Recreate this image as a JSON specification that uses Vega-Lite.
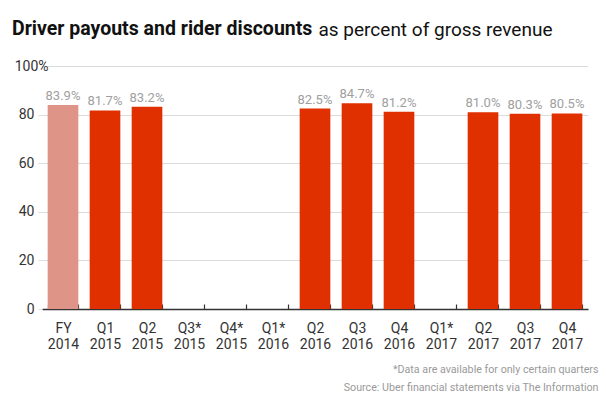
{
  "$schema": "https://vega.github.io/schema/vega-lite/v6.json",
  "width": 546,
  "height": 243,
  "autosize": "none",
  "padding": {"left": 42, "top": 66, "right": 18, "bottom": 94},
  "background": "white",
  "config": {"view": {"stroke": null}, "font": "Roboto"},
  "title": {
    "text": "Driver payouts and rider discounts",
    "anchor": "start",
    "frame": "group",
    "dx": -30,
    "offset": -19,
    "fontSize": 19.5,
    "fontWeight": "bold",
    "font": "Roboto",
    "color": "#111"
  },
  "data": {
    "values": [
      {"period": "FY 2014", "value": 83.9, "kind": "annual"},
      {"period": "Q1 2015", "value": 81.7, "kind": "quarter"},
      {"period": "Q2 2015", "value": 83.2, "kind": "quarter"},
      {"period": "Q2 2016", "value": 82.5, "kind": "quarter"},
      {"period": "Q3 2016", "value": 84.7, "kind": "quarter"},
      {"period": "Q4 2016", "value": 81.2, "kind": "quarter"},
      {"period": "Q2 2017", "value": 81.0, "kind": "quarter"},
      {"period": "Q3 2017", "value": 80.3, "kind": "quarter"},
      {"period": "Q4 2017", "value": 80.5, "kind": "quarter"}
    ]
  },
  "encoding": {
    "x": {
      "field": "period",
      "type": "nominal",
      "sort": null,
      "scale": {
        "domain": ["FY 2014", "Q1 2015", "Q2 2015", "Q3* 2015", "Q4* 2015", "Q1* 2016", "Q2 2016", "Q3 2016", "Q4 2016", "Q1* 2017", "Q2 2017", "Q3 2017", "Q4 2017"],
        "paddingInner": 0.27,
        "paddingOuter": 0.135
      },
      "axis": {
        "title": ["*Data are available for only certain quarters", "Source: Uber financial statements via The Information"],
        "titleAnchor": "end",
        "titleAlign": "right",
        "titleBaseline": "alphabetic",
        "titleX": 556,
        "titleY": 63,
        "titleFontSize": 10.7,
        "titleFontWeight": "normal",
        "titleColor": "#9a9a9a",
        "titleLineHeight": 18,
        "labelAngle": 0,
        "labelExpr": "split(datum.label, ' ')",
        "labelFontSize": 14,
        "labelColor": "#333",
        "labelLineHeight": 16,
        "labelBaseline": "top",
        "labelPadding": 17,
        "domainColor": "#333",
        "domainWidth": 1.5,
        "tickColor": "#333",
        "tickBand": "extent",
        "tickSize": -5,
        "tickWidth": 1.2,
        "grid": false
      }
    }
  },
  "layer": [
    {
      "mark": {"type": "bar"},
      "encoding": {
        "y": {
          "field": "value",
          "type": "quantitative",
          "scale": {"domain": [0, 100], "nice": false},
          "axis": {
            "title": "as percent of gross revenue",
            "titleAngle": 0,
            "titleAlign": "left",
            "titleBaseline": "alphabetic",
            "titleX": 276,
            "titleY": -31,
            "titleFontSize": 19,
            "titleFontWeight": "normal",
            "titleColor": "#111",
            "values": [0, 20, 40, 60, 80, 100],
            "labelExpr": "datum.value == 100 ? '100%' : datum.label",
            "labelFontSize": 14,
            "labelColor": "#333",
            "labelPadding": {"condition": {"test": "datum.value == 100", "value": -10}, "value": 4},
            "domain": false,
            "ticks": true,
            "tickSize": 4,
            "tickColor": {"condition": {"test": "datum.value == 100", "value": "transparent"}, "value": "#dcdcdc"},
            "gridColor": "#dcdcdc",
            "grid": true
          }
        },
        "color": {
          "field": "kind",
          "type": "nominal",
          "scale": {"domain": ["annual", "quarter"], "range": ["#df9488", "#e03000"]},
          "legend": null
        }
      }
    },
    {
      "transform": [{"calculate": "format(datum.value, '.1f') + '%'", "as": "label"}],
      "mark": {"type": "text", "baseline": "alphabetic", "dy": -5, "fontSize": 13, "color": "#a0a0a0"},
      "encoding": {
        "y": {"field": "value", "type": "quantitative"},
        "text": {"field": "label"}
      }
    }
  ]
}
